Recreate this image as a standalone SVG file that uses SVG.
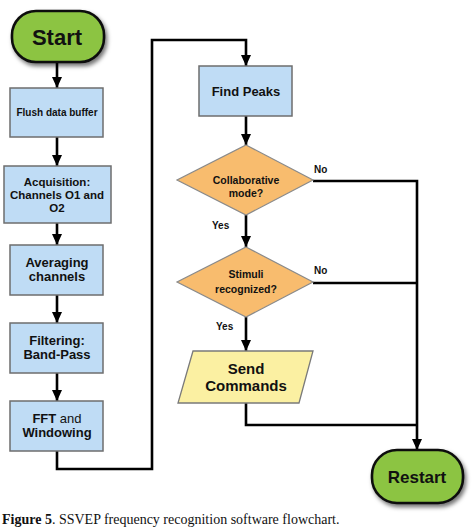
<svg xmlns="http://www.w3.org/2000/svg" width="474" height="529" viewBox="0 0 474 529">
<style>
text{font-family:"Liberation Sans",Arial,sans-serif;font-weight:bold;fill:#111;text-anchor:middle}
.box{fill:#BFDCF5;stroke:#6e6e6e;stroke-width:1.5}
.dia{fill:#F8BC6E;stroke:#8a8a8a;stroke-width:1.2}
.par{fill:#FBF0A2;stroke:#7a7a7a;stroke-width:1.3}
.pill{fill:#8CC443;stroke:#111;stroke-width:2.6}
.ln{fill:none;stroke:#000;stroke-width:2.6}
.lab{font-size:10px;text-anchor:start}
.cap{font-family:"Liberation Serif","Times New Roman",serif;font-weight:normal;font-size:14px;text-anchor:start}
</style>
<defs>
<marker id="ah" markerWidth="12" markerHeight="10" refX="11" refY="5" orient="auto" markerUnits="userSpaceOnUse">
<path d="M0,0 L11,5 L0,10 Z" fill="#000"/>
</marker>
<filter id="sh" x="-20%" y="-20%" width="150%" height="160%">
<feDropShadow dx="2" dy="3" stdDeviation="2" flood-color="#000" flood-opacity="0.55"/>
</filter>
</defs>
<rect width="474" height="529" fill="#fff"/>
<g id="connectors">
<path class="ln" d="M57,63 V88" marker-end="url(#ah)"/>
<path class="ln" d="M57,137 V166" marker-end="url(#ah)"/>
<path class="ln" d="M57,223 V245" marker-end="url(#ah)"/>
<path class="ln" d="M57,295 V323" marker-end="url(#ah)"/>
<path class="ln" d="M57,373 V401" marker-end="url(#ah)"/>
<path class="ln" d="M57,451 V469 H152 V40 H246 V66" marker-end="url(#ah)"/>
<path class="ln" d="M246,116 V145" marker-end="url(#ah)"/>
<path class="ln" d="M246,215 V247" marker-end="url(#ah)"/>
<path class="ln" d="M246,317 V351" marker-end="url(#ah)"/>
<path class="ln" d="M313,181 H417 V450" marker-end="url(#ah)"/>
<path class="ln" d="M313,283 H417"/>
<path class="ln" d="M246,403 V425 H417"/>
<text class="lab" x="314" y="173">No</text>
<text class="lab" x="314" y="274">No</text>
<text class="lab" x="212" y="229">Yes</text>
<text class="lab" x="216" y="330">Yes</text>
</g>
<g id="start">
<rect class="pill" x="12" y="11" width="92" height="51" rx="24" filter="url(#sh)"/>
<text x="57" y="45" font-size="22">Start</text>
</g>
<g id="flush">
<rect class="box" x="10" y="88" width="93" height="49"/>
<text x="57" y="116" font-size="10">Flush data buffer</text>
</g>
<g id="acquisition">
<rect class="box" x="4" y="166" width="107" height="57"/>
<text x="57" y="186" font-size="11.5">Acquisition:</text>
<text x="57" y="199" font-size="11.5">Channels O1 and</text>
<text x="57" y="212" font-size="11.5">O2</text>
</g>
<g id="averaging">
<rect class="box" x="10" y="245" width="93" height="50"/>
<text x="57" y="267" font-size="13">Averaging</text>
<text x="57" y="281" font-size="13">channels</text>
</g>
<g id="filtering">
<rect class="box" x="10" y="323" width="93" height="50"/>
<text x="57" y="345" font-size="13">Filtering:</text>
<text x="57" y="359" font-size="13">Band-Pass</text>
</g>
<g id="fft">
<rect class="box" x="10" y="401" width="93" height="50"/>
<text x="57" y="423" font-size="13">FFT <tspan font-weight="normal">and</tspan></text>
<text x="57" y="437" font-size="13">Windowing</text>
</g>
<g id="findpeaks">
<rect class="box" x="199" y="66" width="93" height="50"/>
<text x="246" y="96" font-size="13">Find Peaks</text>
</g>
<g id="collaborative">
<polygon class="dia" points="246,145 313,180 246,215 177,180"/>
<text x="246" y="184" font-size="10.5">Collaborative</text>
<text x="246" y="197" font-size="10.5">mode?</text>
</g>
<g id="stimuli">
<polygon class="dia" points="246,247 313,282 246,317 177,282"/>
<text x="246" y="278" font-size="10.5">Stimuli</text>
<text x="246" y="293" font-size="10.5">recognized?</text>
</g>
<g id="send">
<polygon class="par" points="193,351 313,351 299,403 178,403"/>
<text x="246" y="374" font-size="15">Send</text>
<text x="246" y="391" font-size="15">Commands</text>
</g>
<g id="restart">
<rect class="pill" x="372" y="450" width="91" height="53" rx="25" filter="url(#sh)"/>
<text x="417" y="483" font-size="17">Restart</text>
</g>
<text class="cap" x="2" y="524"><tspan font-weight="bold">Figure 5</tspan>. SSVEP frequency recognition software flowchart.</text>
</svg>
